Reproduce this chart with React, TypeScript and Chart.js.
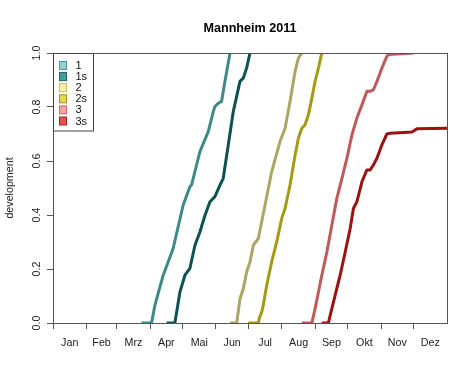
import React, { useEffect, useRef } from "react";
import { Chart, registerables } from "chart.js";

Chart.register(...registerables);

const titleText = "Mannheim 2011";
const yTitle = "development";
const monthLabels = ["Jan", "Feb", "Mrz", "Apr", "Mai", "Jun", "Jul", "Aug", "Sep", "Okt", "Nov", "Dez"];
const monthStarts = [1, 32, 60, 91, 121, 152, 182, 213, 244, 274, 305, 335];
const yearEnd = 366;
const yTicks = [0, 0.2, 0.4, 0.6, 0.8, 1.0];

const seriesNames = ["1", "1s", "2", "2s", "3", "3s"];
const lineColors = ["#3e8a86", "#0c5252", "#aaa764", "#a39b14", "#bd5a5a", "#9c1212"];
const legendFills = ["#90d2d2", "#3f9f9f", "#f9f1a2", "#e6d74c", "#f6a2a2", "#e65252"];
const legendBorders = ["#4a9a9a", "#1f6060", "#c8c060", "#a09020", "#c86868", "#a02424"];

const s1Days = [83, 92.3, 95.4, 103.1, 112.3, 121.6, 127.8, 129.4, 137.1, 144.8, 149.5, 151, 154.1, 157.2, 160.3, 165];
const s1Vals = [0, 0, 0.066, 0.177, 0.276, 0.437, 0.505, 0.512, 0.635, 0.709, 0.783, 0.802, 0.814, 0.821, 0.895, 1.0];

const s1sDays = [106.2, 113.9, 118.6, 123.2, 127.8, 132.5, 137.1, 141.8, 146.4, 151, 155.7, 158.7, 163.4, 168, 174.2, 177.3, 180.4, 183.5];
const s1sVals = [0, 0, 0.115, 0.177, 0.202, 0.288, 0.337, 0.399, 0.449, 0.468, 0.511, 0.536, 0.66, 0.783, 0.895, 0.907, 0.945, 1.0];

const s2Days = [164.9, 171.2, 174.2, 177.3, 180.4, 183.5, 186.6, 191.2, 197.4, 203.6, 211.3, 216, 220.6, 225.3, 228.3, 231.5];
const s2Vals = [0, 0, 0.09, 0.127, 0.189, 0.226, 0.288, 0.313, 0.436, 0.561, 0.672, 0.721, 0.82, 0.932, 0.981, 1.0];

const s2sDays = [181.9, 191.2, 192.3, 194.4, 195.8, 199, 203.6, 208.3, 212.9, 216, 220.6, 225.3, 228.3, 231.5, 234.5, 237.6, 240.8, 243.8, 246.9, 250];
const s2sVals = [0, 0, 0.02, 0.041, 0.066, 0.14, 0.227, 0.301, 0.388, 0.425, 0.511, 0.622, 0.684, 0.721, 0.734, 0.771, 0.833, 0.895, 0.944, 1.0];

const s3Days = [231.5, 240.8, 243.8, 246.9, 250, 254.7, 259.3, 263.9, 268.6, 273.2, 277.9, 282.5, 287.2, 291.8, 294.8, 297.9, 301.1, 305.7, 310.3, 311.8, 335];
const s3Vals = [0, 0, 0.053, 0.115, 0.176, 0.263, 0.362, 0.461, 0.535, 0.609, 0.696, 0.759, 0.808, 0.858, 0.858, 0.864, 0.895, 0.944, 0.988, 0.994, 1.0];

const s3sDays = [250, 256.1, 259.3, 262.4, 267, 271.7, 276.3, 279.3, 282.5, 287.2, 291.8, 294.8, 297.9, 301.1, 305.7, 310.3, 313.4, 333.5, 338.1, 366];
const s3sVals = [0, 0, 0.053, 0.103, 0.177, 0.263, 0.35, 0.424, 0.449, 0.523, 0.567, 0.567, 0.586, 0.61, 0.66, 0.7, 0.703, 0.707, 0.719, 0.721];

const seriesDays = [s1Days, s1sDays, s2Days, s2sDays, s3Days, s3sDays];
const seriesVals = [s1Vals, s1sVals, s2Vals, s2sVals, s3Vals, s3sVals];

const FONT = "'Liberation Sans', Arial, Helvetica, sans-serif";

const monthMids = monthStarts.map((s, i) => (s + (i + 1 < monthStarts.length ? monthStarts[i + 1] : yearEnd)) / 2);

const decorPlugin = {
  id: "rdecor",
  beforeDraw(chart: any) {
    const ctx = chart.ctx;
    ctx.save();
    ctx.fillStyle = "#ffffff";
    ctx.fillRect(0, 0, chart.width, chart.height);
    ctx.restore();
  },
  afterDraw(chart: any) {
    const ctx = chart.ctx;
    const a = chart.chartArea;
    const ys = chart.scales.y;
    ctx.save();
    // box
    ctx.strokeStyle = "#555555";
    ctx.lineWidth = 1;
    ctx.strokeRect(Math.round(a.left) + 0.5, Math.round(a.top) + 0.5, Math.round(a.right - a.left), Math.round(a.bottom - a.top));
    // title
    ctx.fillStyle = "#000000";
    ctx.font = `bold 12.6px ${FONT}`;
    ctx.textAlign = "center";
    ctx.textBaseline = "alphabetic";
    ctx.fillText(titleText, (a.left + a.right) / 2, 31.7);
    // y tick labels, rotated
    ctx.font = `10.7px ${FONT}`;
    ctx.fillStyle = "#222222";
    yTicks.forEach((v) => {
      const py = ys.getPixelForValue(v);
      ctx.save();
      ctx.translate(a.left - 16, py);
      ctx.rotate(-Math.PI / 2);
      ctx.textAlign = "center";
      ctx.textBaseline = "middle";
      ctx.fillText(v.toFixed(1), 0, 0);
      ctx.restore();
    });
    // legend
    const lx = Math.round(a.left) + 0.5;
    const ly = Math.round(a.top) + 0.5;
    ctx.fillStyle = "#ffffff";
    ctx.fillRect(lx, ly, 40, 77.5);
    ctx.strokeStyle = "#444444";
    ctx.strokeRect(lx, ly, 40, 77.5);
    ctx.font = `11px ${FONT}`;
    ctx.textAlign = "left";
    ctx.textBaseline = "middle";
    seriesNames.forEach((name, i) => {
      const cy = ly + 12 + i * 11.1;
      ctx.fillStyle = legendFills[i];
      ctx.fillRect(lx + 6, cy - 4, 7, 8);
      ctx.strokeStyle = legendBorders[i];
      ctx.strokeRect(lx + 6, cy - 4, 7, 8);
      ctx.fillStyle = "#111111";
      ctx.fillText(name, lx + 22, cy + 0.5);
    });
    ctx.restore();
  },
};

export default function App() {
  const ref = useRef<HTMLCanvasElement | null>(null);

  useEffect(() => {
    document.body.style.margin = "0";
    const canvas = ref.current;
    if (!canvas) return;
    const datasets = seriesNames.map((name, i) => ({
      label: name,
      data: seriesDays[i].map((d, j) => ({ x: d, y: seriesVals[i][j] })),
      borderColor: lineColors[i],
      backgroundColor: lineColors[i],
      borderWidth: 3,
      pointRadius: 0,
      tension: 0,
      fill: false,
      borderJoinStyle: "round" as const,
      borderCapStyle: "butt" as const,
      clip: 0,
    }));
    const chart = new Chart(canvas, {
      type: "line",
      data: { datasets },
      options: {
        animation: false,
        responsive: false,
        devicePixelRatio: 1,
        layout: { padding: { left: 0, right: 27, top: 53, bottom: 0 } },
        plugins: {
          legend: { display: false },
          title: { display: false },
          tooltip: { enabled: false },
        },
        scales: {
          x: {
            type: "linear",
            position: "bottom",
            weight: 0,
            min: 1,
            max: yearEnd,
            afterBuildTicks: (s: any) => {
              s.ticks = monthStarts.map((v) => ({ value: v }));
            },
            afterFit: (s: any) => {
              s.height = 6;
            },
            ticks: { display: false },
            grid: {
              display: true,
              drawOnChartArea: false,
              drawTicks: true,
              tickLength: 6,
              color: "#555555",
              lineWidth: 1,
            },
            border: { display: false },
          },
          x2: {
            type: "linear",
            position: "bottom",
            weight: 1,
            min: 1,
            max: yearEnd,
            afterBuildTicks: (s: any) => {
              s.ticks = monthMids.map((v) => ({ value: v }));
            },
            afterFit: (s: any) => {
              s.height = 61;
            },
            ticks: {
              autoSkip: false,
              maxRotation: 0,
              minRotation: 0,
              padding: 8,
              color: "#222222",
              font: { family: FONT, size: 10.7 },
              callback: (v: any) => {
                const idx = monthMids.findIndex((m) => Math.abs(m - Number(v)) < 0.01);
                return idx >= 0 ? monthLabels[idx] : "";
              },
            },
            grid: { display: false, drawTicks: false },
            border: { display: false },
          },
          y: {
            type: "linear",
            position: "left",
            min: 0,
            max: 1,
            afterBuildTicks: (s: any) => {
              s.ticks = yTicks.map((v) => ({ value: v }));
            },
            afterFit: (s: any) => {
              s.width = 53;
            },
            ticks: { display: false },
            grid: {
              display: true,
              drawOnChartArea: false,
              drawTicks: true,
              tickLength: 6,
              color: "#555555",
              lineWidth: 1,
            },
            border: { display: false },
            title: {
              display: true,
              text: yTitle,
              color: "#222222",
              font: { family: FONT, size: 10.7 },
              padding: { top: 4, bottom: 4 },
            },
          },
        },
      },
      plugins: [decorPlugin],
    } as any);
    return () => chart.destroy();
  }, []);

  return (
    <div style={{ width: 474, height: 390 }}>
      <canvas ref={ref} width={474} height={390} style={{ display: "block" }} />
    </div>
  );
}
